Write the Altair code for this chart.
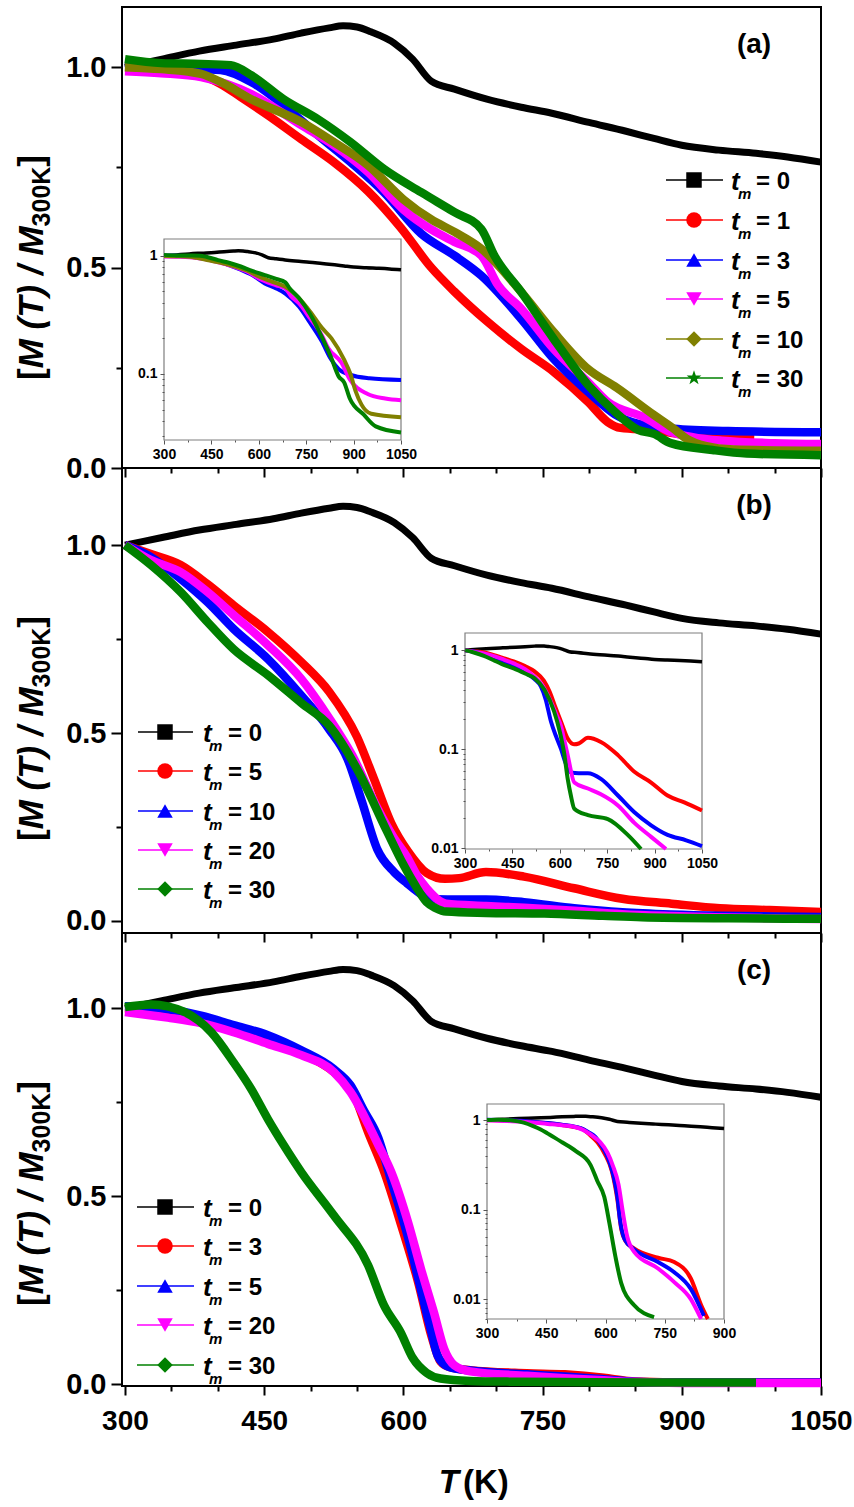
import altair as alt
import pandas as pd

FONT = "Liberation Sans"

BLACK, RED, BLUE, MAGENTA, OLIVE, GREEN = "#000000", "#ff0000", "#0000ff", "#ff00ff", "#808000", "#008000"
STAR = ("M0,-1L0.235,-0.324L0.951,-0.309L0.38,0.124L0.588,0.809L0,0.4"
        "L-0.588,0.809L-0.38,0.124L-0.951,-0.309L-0.235,-0.324Z")

# ---- untreated sample (t_m = 0), common to all three panels ----
T_0 = [300, 340, 380, 420, 460, 490, 520, 535, 550, 565, 590, 610, 630, 655, 690, 727,
       760, 800, 840, 870, 900, 940, 980, 1014, 1050]
M_0 = [1.00, 1.02, 1.04, 1.055, 1.07, 1.085, 1.098, 1.103, 1.10, 1.088, 1.06, 1.02, 0.965,
       0.945, 0.92, 0.90, 0.885, 0.862, 0.84, 0.822, 0.805, 0.793, 0.785, 0.776, 0.763]

# ---- panel (a) ----
TA_1 = [300, 339, 382, 403, 425, 454, 490, 525, 562, 597, 630, 655, 691, 727, 762, 799,
        820, 834, 870, 906, 940, 978]
MA_1 = [1.00, 0.995, 0.98, 0.958, 0.925, 0.88, 0.82, 0.763, 0.69, 0.60, 0.50, 0.44, 0.364,
        0.297, 0.24, 0.165, 0.115, 0.10, 0.094, 0.082, 0.076, 0.072]
TA_3 = [300, 339, 382, 403, 436, 471, 508, 543, 579, 619, 655, 684, 727, 762, 799, 828,
        853, 891, 950, 1050]
MA_3 = [1.01, 1.005, 0.995, 0.993, 0.963, 0.905, 0.83, 0.763, 0.688, 0.585, 0.53, 0.48,
        0.372, 0.272, 0.19, 0.134, 0.11, 0.098, 0.092, 0.089]
TA_5 = [300, 339, 382, 436, 490, 525, 562, 600, 630, 655, 684, 702, 727, 762, 799, 820,
        861, 888, 943, 1000, 1050]
MA_5 = [0.99, 0.985, 0.975, 0.933, 0.855, 0.805, 0.738, 0.645, 0.595, 0.564, 0.53, 0.456,
        0.397, 0.297, 0.214, 0.165, 0.125, 0.09, 0.068, 0.062, 0.06]
TA_10 = [300, 339, 382, 403, 436, 490, 525, 562, 600, 630, 655, 684, 727, 762, 799, 830,
         870, 890, 906, 925, 956, 1050]
MA_10 = [1.0, 0.995, 0.983, 0.963, 0.92, 0.863, 0.813, 0.755, 0.67, 0.62, 0.589, 0.547,
         0.439, 0.339, 0.247, 0.20, 0.132, 0.10, 0.072, 0.055, 0.046, 0.043]
TA_30 = [300, 339, 382, 414, 436, 471, 508, 543, 579, 619, 655, 684, 698, 727, 762, 799,
         828, 853, 870, 888, 933, 970, 1050]
MA_30 = [1.02, 1.01, 1.008, 1.005, 0.98, 0.92, 0.87, 0.813, 0.746, 0.688, 0.638, 0.596,
         0.53, 0.439, 0.322, 0.207, 0.14, 0.095, 0.085, 0.062, 0.045, 0.036, 0.032]

# ---- panel (b) ----
TB_5 = [300, 328, 360, 389, 417, 454, 490, 520, 550, 568, 587, 605, 625, 645, 660, 689,
        730, 784, 836, 889, 941, 994, 1050]
MB_5 = [1.0, 0.976, 0.947, 0.896, 0.84, 0.769, 0.689, 0.61, 0.49, 0.38, 0.26, 0.185, 0.128,
        0.112, 0.114, 0.13, 0.118, 0.087, 0.059, 0.046, 0.034, 0.029, 0.024]
TB_10 = [300, 328, 360, 389, 417, 454, 490, 520, 540, 555, 572, 590, 604, 620, 635, 660,
         689, 730, 784, 836, 889, 941, 1000, 1050]
MB_10 = [1.0, 0.968, 0.91, 0.848, 0.777, 0.697, 0.60, 0.51, 0.43, 0.32, 0.19, 0.13, 0.10,
         0.07, 0.058, 0.057, 0.057, 0.05, 0.034, 0.023, 0.017, 0.0136, 0.012, 0.0105]
TB_20 = [300, 328, 360, 389, 417, 454, 490, 520, 545, 572, 590, 604, 615, 625, 646, 689,
         730, 784, 836, 889, 936, 1000, 1050]
MB_20 = [1.0, 0.96, 0.928, 0.875, 0.814, 0.734, 0.644, 0.54, 0.44, 0.30, 0.22, 0.17, 0.12,
         0.087, 0.046, 0.04, 0.035, 0.027, 0.018, 0.013, 0.0098, 0.007, 0.005]
TB_30 = [300, 328, 360, 389, 417, 454, 490, 520, 551, 582, 600, 614, 625, 635, 646, 689,
         752, 815, 857, 950, 1050]
MB_30 = [1.0, 0.947, 0.875, 0.795, 0.723, 0.654, 0.58, 0.52, 0.40, 0.24, 0.15, 0.09, 0.05,
         0.034, 0.025, 0.0215, 0.0196, 0.0136, 0.0098, 0.007, 0.006]

# ---- panel (c) ----
TC_3 = [300, 346, 382, 417, 454, 490, 525, 545, 562, 580, 598, 616, 630, 640, 650, 672,
        733, 774, 816, 842, 859, 900, 960, 1050]
MC_3 = [1.0, 0.99, 0.975, 0.95, 0.92, 0.88, 0.83, 0.78, 0.67, 0.56, 0.42, 0.27, 0.13, 0.06,
        0.045, 0.037, 0.029, 0.026, 0.017, 0.0086, 0.006, 0.004, 0.004, 0.004]
TC_5 = [300, 346, 382, 417, 454, 490, 525, 543, 557, 573, 587, 605, 619, 630, 637, 648,
        672, 733, 774, 816, 849, 900, 960, 1050]
MC_5 = [1.005, 0.997, 0.98, 0.955, 0.928, 0.888, 0.838, 0.795, 0.73, 0.655, 0.54, 0.39,
        0.25, 0.14, 0.075, 0.047, 0.036, 0.026, 0.02, 0.013, 0.0065, 0.004, 0.004, 0.004]
TC_20 = [300, 346, 382, 417, 454, 490, 525, 543, 573, 587, 605, 619, 633, 644, 655, 672,
         733, 774, 816, 842, 900, 960, 1050]
MC_20 = [0.99, 0.975, 0.96, 0.936, 0.905, 0.875, 0.83, 0.777, 0.636, 0.564, 0.431, 0.306,
         0.19, 0.093, 0.05, 0.034, 0.022, 0.0155, 0.01, 0.006, 0.003, 0.003, 0.003]
TC_30 = [300, 328, 364, 393, 417, 436, 454, 471, 490, 525, 562, 579, 597, 610, 625, 640,
         672, 723, 800, 900, 980]
MC_30 = [1.003, 1.01, 0.99, 0.936, 0.856, 0.785, 0.705, 0.636, 0.564, 0.449, 0.316, 0.21,
         0.138, 0.07, 0.03, 0.015, 0.0086, 0.0063, 0.005, 0.004, 0.004]

SERIES_A = [
    dict(tm="0", color=BLACK, shape="square", T=T_0, M=M_0, inset=True),
    dict(tm="1", color=RED, shape="circle", T=TA_1, M=MA_1, inset=False),
    dict(tm="3", color=BLUE, shape="triangle-up", T=TA_3, M=MA_3, inset=True),
    dict(tm="5", color=MAGENTA, shape="triangle-down", T=TA_5, M=MA_5, inset=True),
    dict(tm="10", color=OLIVE, shape="diamond", T=TA_10, M=MA_10, inset=True),
    dict(tm="30", color=GREEN, shape=STAR, T=TA_30, M=MA_30, inset=True),
]
SERIES_B = [
    dict(tm="0", color=BLACK, shape="square", T=T_0, M=M_0, inset=True),
    dict(tm="5", color=RED, shape="circle", T=TB_5, M=MB_5, inset=True),
    dict(tm="10", color=BLUE, shape="triangle-up", T=TB_10, M=MB_10, inset=True),
    dict(tm="20", color=MAGENTA, shape="triangle-down", T=TB_20, M=MB_20, inset=True),
    dict(tm="30", color=GREEN, shape="diamond", T=TB_30, M=MB_30, inset=True),
]
SERIES_C = [
    dict(tm="0", color=BLACK, shape="square", T=T_0, M=M_0, inset=True),
    dict(tm="3", color=RED, shape="circle", T=TC_3, M=MC_3, inset=True),
    dict(tm="5", color=BLUE, shape="triangle-up", T=TC_5, M=MC_5, inset=True),
    dict(tm="20", color=MAGENTA, shape="triangle-down", T=TC_20, M=MC_20, inset=True),
    dict(tm="30", color=GREEN, shape="diamond", T=TC_30, M=MC_30, inset=True),
]

W = 699
X_DOMAIN = [296.8, 1050]
X_MAJOR = [300, 450, 600, 750, 900, 1050]
X_MINOR = [350, 400, 500, 550, 650, 700, 800, 850, 950, 1000]


def curve_df(s):
    return pd.DataFrame({"T": s["T"], "M": s["M"]})


def main_layers(series, ydom, x_labels):
    xs = alt.Scale(domain=X_DOMAIN, nice=False, zero=False)
    ys = alt.Scale(domain=ydom, nice=False, zero=False)
    out = []
    for i, s in enumerate(series):
        if i == 0:
            xa = alt.Axis(orient="bottom", values=X_MAJOR, format="d", labels=x_labels,
                          labelFont=FONT, labelFontSize=28, labelFontWeight="bold",
                          labelColor="black", labelPadding=12, labelFlush=False,
                          tickSize=9, tickWidth=2, tickColor="black", domain=False,
                          grid=False, title=None)
            ya = alt.Axis(orient="left", values=[0, 0.5, 1.0], format=".1f",
                          labelFont=FONT, labelFontSize=29, labelFontWeight="bold",
                          labelColor="black", labelPadding=5, labelFlush=False,
                          tickSize=11, tickWidth=2, tickColor="black", domain=False,
                          grid=False, title=None)
        elif i == 1:
            xa = alt.Axis(orient="bottom", values=X_MINOR, labels=False, tickSize=5,
                          tickWidth=2, tickColor="black", domain=False, grid=False, title=None)
            ya = alt.Axis(orient="left", values=[0.25, 0.75], labels=False, tickSize=6,
                          tickWidth=2, tickColor="black", domain=False, grid=False, title=None)
        else:
            xa = None
            ya = None
        width = 7 if s["color"] == BLACK else 8.5
        out.append(
            alt.Chart(curve_df(s)).mark_line(color=s["color"], strokeWidth=width,
                                             interpolate="monotone")
            .encode(x=alt.X("T:Q", scale=xs, axis=xa), y=alt.Y("M:Q", scale=ys, axis=ya))
        )
    return out


def inset_layers(series, xdom, ydom, xr, yr, height, ymajor):
    xs = alt.Scale(domain=xdom, range=xr, nice=False, zero=False)
    ys = alt.Scale(type="log", domain=ydom, range=yr, nice=False)
    xmaj = list(range(xdom[0], xdom[1] + 1, 150))
    xmin = list(range(xdom[0] + 75, xdom[1], 150))
    ymin = [k * 10.0 ** e for e in (-3, -2, -1, 0) for k in range(2, 10)
            if ydom[0] <= k * 10.0 ** e <= ydom[1]]
    xoff = -(height - yr[0])
    yoff = -xr[0]
    lab = dict(labelFont=FONT, labelFontSize=14, labelFontWeight="bold", labelColor="black",
               labelFlush=False, tickColor="#555555", tickWidth=1, domain=False, grid=False,
               title=None, zindex=2)
    frame = pd.DataFrame({"x1": [xdom[0]], "x2": [xdom[1]], "y1": [ydom[0]], "y2": [ydom[1]]})
    out = [
        alt.Chart(frame).mark_rect(fill="white", stroke="#7f7f7f", strokeWidth=1.2).encode(
            x=alt.X("x1:Q", scale=xs,
                    axis=alt.Axis(orient="bottom", offset=xoff, values=xmaj, format="d",
                                  tickSize=4, labelPadding=3, **lab)),
            x2="x2:Q",
            y=alt.Y("y1:Q", scale=ys,
                    axis=alt.Axis(orient="left", offset=yoff, values=ymajor, format="~g",
                                  tickSize=4, labelPadding=3, **lab)),
            y2="y2:Q",
        )
    ]
    first = True
    for s in series:
        if not s["inset"]:
            continue
        d = curve_df(s)
        d = d[(d["T"] >= xdom[0]) & (d["T"] <= xdom[1]) & (d["M"] >= ydom[0]) & (d["M"] <= ydom[1])]
        if first:
            xa = alt.Axis(orient="bottom", offset=xoff, values=xmin, labels=False, tickSize=2,
                          tickColor="#555555", domain=False, grid=False, title=None, zindex=2)
            ya = alt.Axis(orient="left", offset=yoff, values=ymin, labels=False, tickSize=2,
                          tickColor="#555555", domain=False, grid=False, title=None, zindex=2)
            first = False
        else:
            xa = None
            ya = None
        out.append(
            alt.Chart(d).mark_line(color=s["color"], strokeWidth=3.5 if s["color"] == BLACK else 4,
                                   interpolate="monotone")
            .encode(x=alt.X("T:Q", scale=xs, axis=xa), y=alt.Y("M:Q", scale=ys, axis=ya))
        )
    return out


def legend_layers(series, rows, x_line, x_sym, x_t, x_m, x_eq):
    out = []
    for s, yr in zip(series, rows):
        base = alt.Chart(pd.DataFrame({"eq": ["= " + s["tm"]]}))
        out += [
            base.mark_rule(color=s["color"], strokeWidth=1.5).encode(
                x=alt.value(x_line[0]), x2=alt.value(x_line[1]), y=alt.value(yr)),
            base.mark_point(shape=s["shape"], filled=True, size=240, color=s["color"],
                            opacity=1).encode(x=alt.value(x_sym), y=alt.value(yr)),
            base.mark_text(text="t", font=FONT, fontSize=26, fontWeight="bold",
                           fontStyle="italic", align="left", baseline="alphabetic",
                           color="black").encode(x=alt.value(x_t), y=alt.value(yr + 10)),
            base.mark_text(text="m", font=FONT, fontSize=15, fontWeight="bold",
                           fontStyle="italic", align="left", baseline="alphabetic",
                           color="black").encode(x=alt.value(x_m), y=alt.value(yr + 19)),
            base.mark_text(font=FONT, fontSize=24, fontWeight="bold", align="left",
                           baseline="alphabetic", color="black").encode(
                text="eq:N", x=alt.value(x_eq), y=alt.value(yr + 9)),
        ]
    return out


def text_layer(txt, x, y, size, weight="bold", style="normal", align="center",
               baseline="middle", angle=0):
    return alt.Chart(pd.DataFrame({"s": [txt]})).mark_text(
        font=FONT, fontSize=size, fontWeight=weight, fontStyle=style, align=align,
        baseline=baseline, angle=angle, color="black").encode(
        text="s:N", x=alt.value(x), y=alt.value(y))


def y_title(center):
    # rotated "[M (T) / M_300K]" assembled from pieces, reading bottom to top
    start = center + 112
    return [
        text_layer("[", -79, start, 35, align="left", baseline="alphabetic", angle=270),
        text_layer("M (T) / M", -79, start - 11.7, 35, style="italic", align="left",
                   baseline="alphabetic", angle=270),
        text_layer("300K", -72, start - 153.6, 25, align="left", baseline="alphabetic",
                   angle=270),
        text_layer("]", -79, start - 213.3, 35, align="left", baseline="alphabetic", angle=270),
    ]


def panel(series, height, ydom, label, inset, legend, x_labels=False, extra=()):
    layers = main_layers(series, ydom, x_labels)
    layers += inset_layers(series, **inset, height=height)
    layers += legend_layers(series, **legend)
    layers += y_title(261)
    layers.append(text_layer(label, 632, 38, 28))
    layers += list(extra)
    return alt.layer(*layers).resolve_scale(x="independent", y="independent").properties(
        width=W, height=height)


anchor = alt.Chart(pd.DataFrame({"k": [0]})).mark_rule(color="white", strokeWidth=1).encode(
    x=alt.value(-120.5), x2=alt.value(-119.5), y=alt.value(-5), y2=alt.value(-4.5))

pa = panel(SERIES_A, 461, [0, 1.15], "(a)",
           inset=dict(xdom=[300, 1050], ydom=[0.0276, 1.39], xr=[42, 279], yr=[433, 232],
                      ymajor=[0.1, 1]),
           legend=dict(rows=[173, 213, 253, 292, 332, 371], x_line=[544, 601], x_sym=572,
                       x_t=609, x_m=616, x_eq=634),
           extra=[anchor])
pb = panel(SERIES_B, 465, [-0.032, 1.205], "(b)",
           inset=dict(xdom=[300, 1050], ydom=[0.0098, 1.49], xr=[343, 580], yr=[381, 165],
                      ymajor=[0.01, 0.1, 1]),
           legend=dict(rows=[264, 303, 343, 382, 421], x_line=[16, 71], x_sym=43,
                       x_t=81, x_m=87, x_eq=106))
pc = panel(SERIES_C, 453, [-0.005, 1.2], "(c)",
           inset=dict(xdom=[300, 900], ydom=[0.006, 1.51], xr=[365, 602], yr=[386, 171],
                      ymajor=[0.01, 0.1, 1]),
           legend=dict(rows=[274, 313, 353, 392, 432], x_line=[15, 72], x_sym=43,
                       x_t=81, x_m=87, x_eq=106),
           x_labels=True,
           extra=[text_layer("T", 337, 560, 33, style="italic", align="right",
                             baseline="alphabetic"),
                  text_layer("(K)", 341, 560, 33, align="left", baseline="alphabetic")])

chart = (
    alt.vconcat(pa, pb, pc, spacing=0, bounds="flush")
    .properties(padding=0)
    .configure_view(stroke="black", strokeWidth=2)
)

chart.save("out.html", embed_options={"renderer": "svg", "actions": False})
